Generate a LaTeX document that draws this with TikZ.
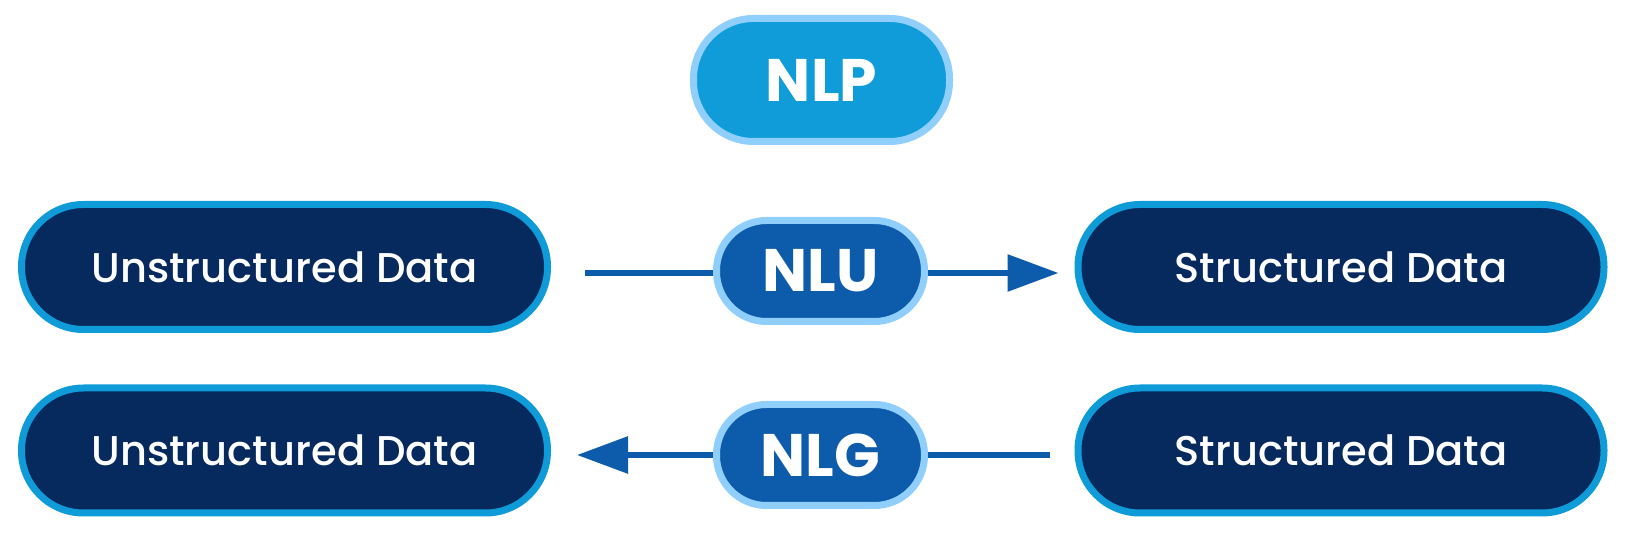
\documentclass[tikz,border=0pt]{standalone}
\usepackage{fontspec}
\setmainfont{Poppins}
\newfontfamily\medfont{Poppins Medium}
\usetikzlibrary{arrows.meta}
\definecolor{navy}{HTML}{062A5E}
\definecolor{skyline}{HTML}{0E9BD8}
\definecolor{nlpfill}{HTML}{0F9CD9}
\definecolor{paleline}{HTML}{90CFFB}
\definecolor{midblue}{HTML}{0D5CAB}
\tikzset{
  databox/.style={draw=skyline, fill=navy, line width=3.5pt, rounded corners=31pt,
    minimum width=263pt, minimum height=62.5pt, text=white,
    font=\medfont\fontsize{20.8}{25}\selectfont},
  taskbox/.style={draw=paleline, fill=midblue, line width=3.5pt, rounded corners=25pt,
    minimum width=104pt, minimum height=50.5pt, text=white,
    font=\bfseries\fontsize{30}{34}\selectfont},
  flow/.style={draw=midblue, line width=3pt},
  tip/.style={-{Triangle[length=25.5pt, width=18pt]}}
}
\begin{document}
\begin{tikzpicture}[x=0.5pt, y=-0.5pt]
  \useasboundingbox (0,0) rectangle (1630,534);

  % top
  \node[taskbox, fill=nlpfill, minimum width=128pt, minimum height=61.5pt, rounded corners=30pt] (nlp) at (821.5,80) {NLP};

  % understanding row
  \node[databox] (ud1) at (284.5,267) {Unstructured Data};
  \node[databox] (sd1) at (1341,267) {Structured Data};
  \node[taskbox] (nlu) at (820.5,271) {NLU};
  \coordinate (ustart) at (585,273);
  \draw[flow] (ustart) -- (nlu.west |- ustart);
  \draw[flow, tip, shorten >=8pt] (nlu.east |- ustart) -- (sd1.west |- ustart);

  % generation row
  \node[databox] (ud2) at (284.5,450.5) {Unstructured Data};
  \node[databox] (sd2) at (1341,450.5) {Structured Data};
  \node[taskbox] (nlg) at (820.5,455) {NLG};
  \coordinate (gstart) at (1050,455);
  \draw[flow] (gstart) -- (nlg.east);
  \draw[flow, tip, shorten >=13pt] (nlg.west) -- (ud2.east |- nlg.west);
\end{tikzpicture}
\end{document}
